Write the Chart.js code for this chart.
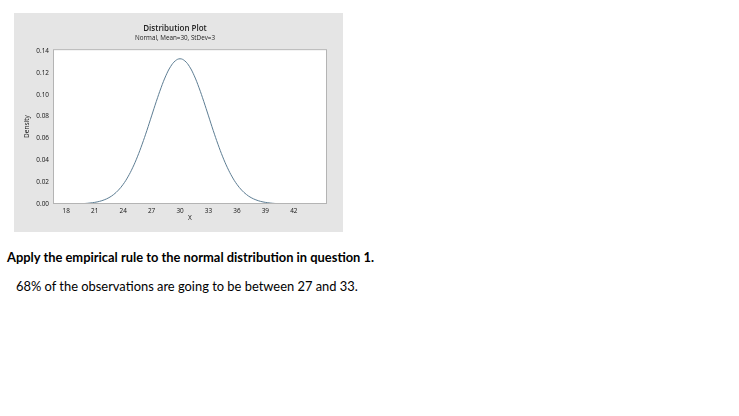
<!DOCTYPE html>
<html>
<head>
<meta charset="utf-8">
<script src="https://cdn.jsdelivr.net/npm/chart.js@4.4.1/dist/chart.umd.min.js"></script>
<style>
  body { margin: 0; background: #fff; width: 739px; height: 416px; position: relative; overflow: hidden; }
  #box { position: absolute; left: 14px; top: 13px; width: 329px; height: 219px; background: #e5e5e5; }
  #plot { display: block; }
  .q { position: absolute; left: 7px; top: 249px; font-family: Lato, "Open Sans", sans-serif; font-weight: bold; font-size: 12.9px; color: #000; white-space: nowrap; }
  .a { position: absolute; left: 16px; top: 278px; font-family: Lato, "Open Sans", sans-serif; font-size: 12.9px; color: #000; white-space: nowrap; }
</style>
</head>
<body>
<div id="box"><canvas id="plot" width="329" height="219"></canvas></div>
<div class="q">Apply the empirical rule to the normal distribution in question 1.</div>
<div class="a">68% of the observations are going to be between 27 and 33.</div>
<script>
// values, every half unit
let xValues = [19.5,20,20.5,21,21.5,22,22.5,23,23.5,24,24.5,25,25.5,26,26.5,27,27.5,28,28.5,29,29.5,30,
               30.5,31,31.5,32,32.5,33,33.5,34,34.5,35,35.5,36,36.5,37,37.5,38,38.5,39,39.5,40,40.5]
let density = [0.0003,0.0005,0.0009,0.0015,0.0024,0.0038,0.0058,0.0087,0.0127,0.0180,0.0248,0.0332,0.0432,0.0547,0.0673,0.0807,0.0940,0.1065,0.1174,0.1258,0.1311,0.1330,
               0.1311,0.1258,0.1174,0.1065,0.0940,0.0807,0.0673,0.0547,0.0432,0.0332,0.0248,0.0180,0.0127,0.0087,0.0058,0.0038,0.0024,0.0015,0.0009,0.0005,0.0003]
let xTicks = [18,21,24,27,30,33,36,39,42]
let yTicks = [0,0.02,0.04,0.06,0.08,0.10,0.12,0.14]

let font = "'Open Sans', 'Noto Sans', sans-serif"

let whiteArea = {
  id: "whiteArea",
  beforeDraw(chart) {
    let {ctx, chartArea: a} = chart
    ctx.save()
    ctx.fillStyle = "#ffffff"
    ctx.fillRect(a.left, a.top, a.right - a.left, a.bottom - a.top)
    ctx.restore()
  },
  afterDraw(chart) {
    let {ctx, chartArea: a} = chart
    ctx.save()
    ctx.strokeStyle = "#b4b4b4"
    ctx.lineWidth = 1
    ctx.strokeRect(a.left + 0.5, a.top + 0.5, a.right - a.left - 1, a.bottom - a.top - 1)
    ctx.restore()
  }
}

let points = xValues.map((x, i) => ({x: x, y: density[i]}))

new Chart(document.getElementById("plot"), {
  type: "line",
  plugins: [whiteArea],
  data: {
    datasets: [{
      data: points,
      borderColor: "#5d7d93",
      borderWidth: 1,
      pointRadius: 0,
      tension: 0.4,
      fill: false
    }]
  },
  options: {
    responsive: false,
    animation: false,
    layout: {padding: {left: 9, right: 16, top: 0, bottom: 10}},
    plugins: {
      legend: {display: false},
      tooltip: {enabled: false},
      title: {
        display: true,
        text: "Distribution Plot",
        color: "#222",
        font: {family: font, size: 8, weight: "600", lineHeight: 1.2},
        padding: {top: 11, bottom: 1}
      },
      subtitle: {
        display: true,
        text: "Normal, Mean=30, StDev=3",
        color: "#222",
        font: {family: font, size: 6.3, lineHeight: 1.2},
        padding: {top: 0, bottom: 7}
      }
    },
    scales: {
      x: {
        type: "linear",
        min: 16.6,
        max: 45.5,
        afterBuildTicks: (s) => { s.ticks = xTicks.map(v => ({value: v})) },
        afterFit: (s) => { s.height = 18 },
        grid: {display: false, drawTicks: true, tickLength: 2},
        border: {display: false},
        ticks: {color: "#111", font: {family: font, size: 6.4}, padding: 1, maxRotation: 0},
        title: {display: true, text: "X", color: "#111", font: {family: font, size: 6.5}, padding: {top: 0, bottom: 0}}
      },
      y: {
        min: 0,
        max: 0.1418,
        afterBuildTicks: (s) => { s.ticks = yTicks.map(v => ({value: v})) },
        afterFit: (s) => { s.width = 30 },
        grid: {display: false, drawTicks: true, tickLength: 2},
        border: {display: false},
        ticks: {color: "#111", font: {family: font, size: 6.4}, padding: 2, callback: (v) => v.toFixed(2)},
        title: {display: true, text: "Density", color: "#111", font: {family: font, size: 6.5}, padding: {top: 0, bottom: 0}}
      }
    }
  }
})
</script>
</body>
</html>
